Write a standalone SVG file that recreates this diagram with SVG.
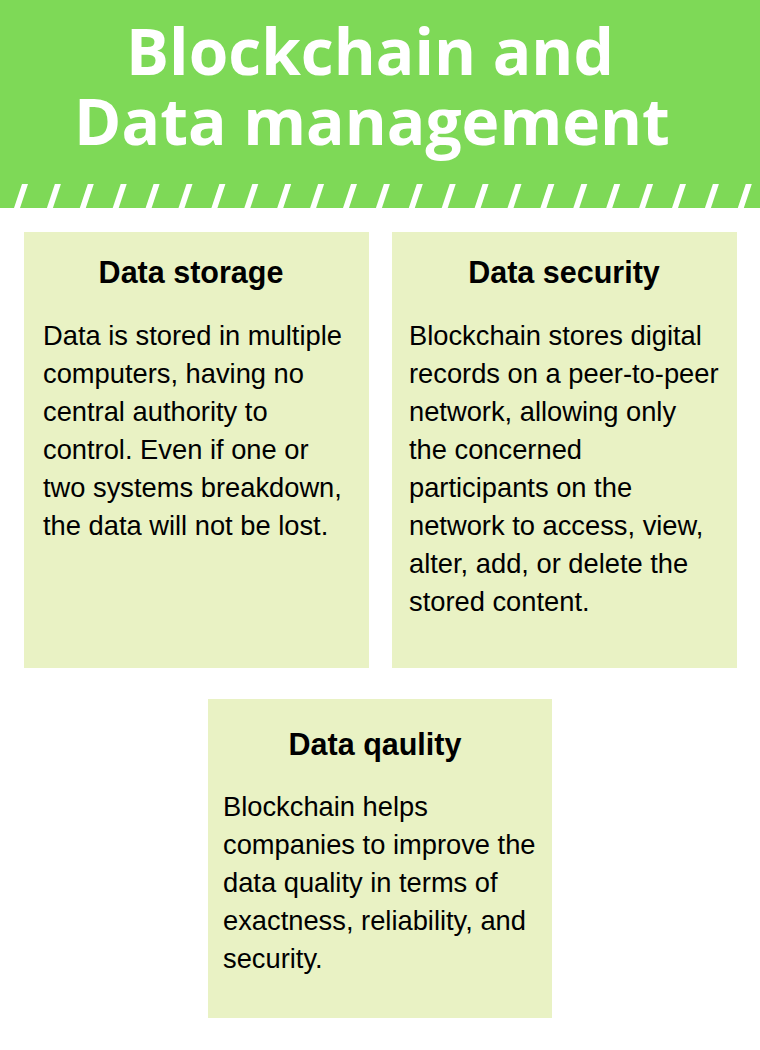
<svg xmlns="http://www.w3.org/2000/svg" width="760" height="1050" viewBox="0 0 760 1050">
<style>
.box{fill:#e9f2c4}
.h{font-family:"Liberation Sans",Arial,sans-serif;font-weight:bold;font-size:30.5px;text-anchor:middle;fill:#000}
.b{font-family:"Liberation Sans",Arial,sans-serif;font-size:27.3px;fill:#000}
.t{font-family:"Open Sans","Noto Sans",sans-serif;font-weight:bold;font-size:64px;text-anchor:middle;fill:#fff}
</style>
<defs><polygon id="sl" points="22,184 28,184 20,208 14,208" fill="#fff"/></defs>
<rect x="0" y="0" width="760" height="208" fill="#7ed957"/>
<g id="slashes">
<use href="#sl" x="0"/><use href="#sl" x="32.9"/><use href="#sl" x="65.8"/><use href="#sl" x="98.7"/><use href="#sl" x="131.6"/><use href="#sl" x="164.5"/><use href="#sl" x="197.4"/><use href="#sl" x="230.3"/><use href="#sl" x="263.2"/><use href="#sl" x="296.1"/><use href="#sl" x="329"/><use href="#sl" x="361.9"/><use href="#sl" x="394.8"/><use href="#sl" x="427.7"/><use href="#sl" x="460.6"/><use href="#sl" x="493.5"/><use href="#sl" x="526.4"/><use href="#sl" x="559.3"/><use href="#sl" x="592.2"/><use href="#sl" x="625.1"/><use href="#sl" x="658"/><use href="#sl" x="690.9"/><use href="#sl" x="723.8"/>
</g>
<g id="title"><text class="t" x="370" y="75">Blockchain and</text><text class="t" x="372" y="145">Data management</text></g>
<g id="storage"><rect class="box" x="24" y="232" width="345" height="436"/>
<text class="h" x="191" y="283">Data storage</text>
<text class="b"><tspan x="43" y="345">Data is stored in multiple</tspan><tspan x="43" y="383">computers, having no</tspan><tspan x="43" y="421">central authority to</tspan><tspan x="43" y="459">control. Even if one or</tspan><tspan x="43" y="497">two systems breakdown,</tspan><tspan x="43" y="535">the data will not be lost.</tspan></text></g>
<g id="security"><rect class="box" x="392" y="232" width="345" height="436"/>
<text class="h" x="564" y="283">Data security</text>
<text class="b"><tspan x="409" y="345">Blockchain stores digital</tspan><tspan x="409" y="383">records on a peer-to-peer</tspan><tspan x="409" y="421">network, allowing only</tspan><tspan x="409" y="459">the concerned</tspan><tspan x="409" y="497">participants on the</tspan><tspan x="409" y="535">network to access, view,</tspan><tspan x="409" y="573">alter, add, or delete the</tspan><tspan x="409" y="611">stored content.</tspan></text></g>
<g id="quality"><rect class="box" x="208" y="699" width="344" height="319"/>
<text class="h" x="375" y="755">Data qaulity</text>
<text class="b"><tspan x="223" y="816">Blockchain helps</tspan><tspan x="223" y="854">companies to improve the</tspan><tspan x="223" y="892">data quality in terms of</tspan><tspan x="223" y="930">exactness, reliability, and</tspan><tspan x="223" y="968">security.</tspan></text></g>
<g id="connectors"/>
</svg>
